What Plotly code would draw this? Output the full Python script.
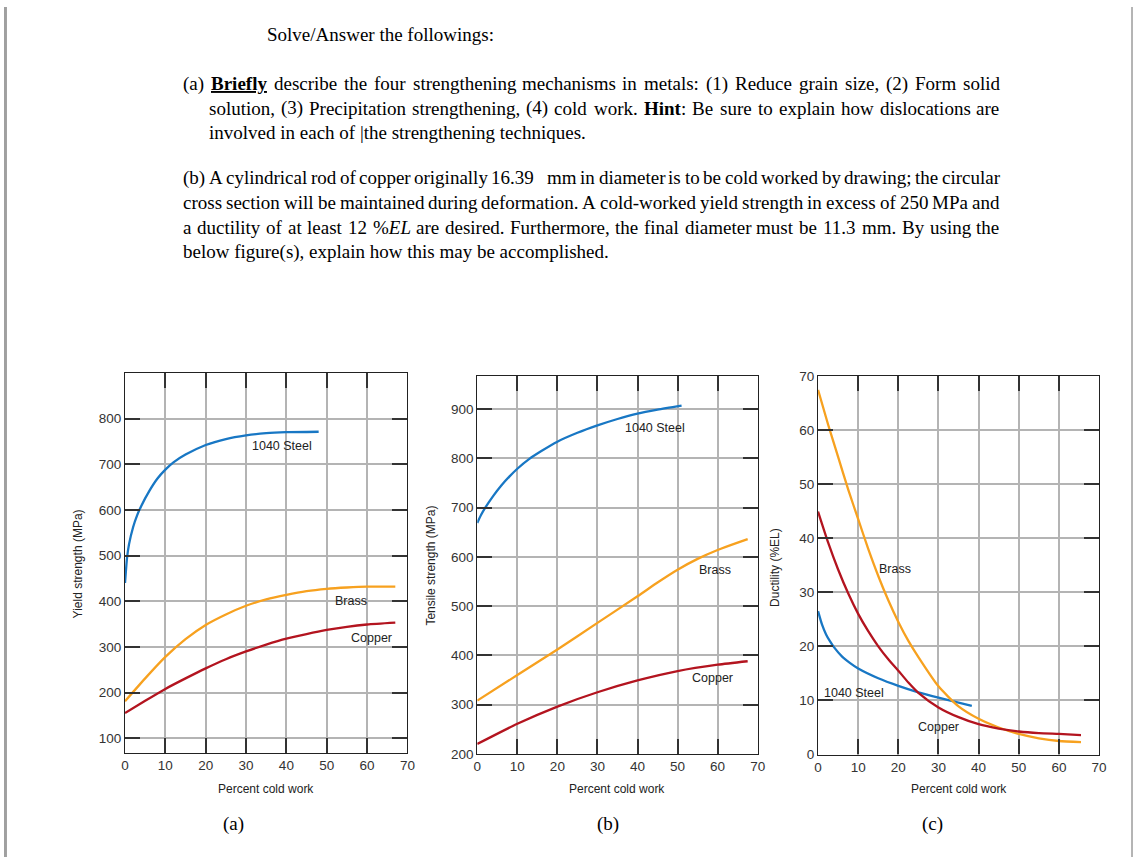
import plotly.graph_objects as go

W, H = 1141, 865

# ---------------- data ----------------
# (a) Yield strength (MPa) vs percent cold work
steel_a_x = [0, 0.5, 1, 2, 3, 4, 6, 8, 10, 12, 15, 20, 25, 30, 35, 40, 48]
steel_a_y = [440, 495, 525, 562, 588, 608, 641, 668, 688, 704, 721, 742, 755, 763, 768, 770, 771]
brass_a_x = [0, 5, 10, 15, 20, 25, 30, 35, 40, 45, 50, 55, 60, 67]
brass_a_y = [181, 231, 278, 317, 348, 371, 390, 404, 414, 422, 427, 430, 432, 432]
copper_a_x = [0, 5, 10, 15, 20, 25, 30, 35, 40, 45, 50, 55, 60, 67]
copper_a_y = [155, 182, 208, 231, 253, 273, 290, 305, 318, 328, 337, 344, 349, 353]

# (b) Tensile strength (MPa) vs percent cold work
steel_b_x = [0, 1, 2, 4, 6, 8, 10, 13, 16, 20, 25, 30, 35, 40, 45, 51]
steel_b_y = [669, 686, 700, 724, 745, 763, 779, 799, 815, 834, 852, 867, 880, 891, 899, 907]
brass_b_x = [0, 10, 20, 30, 40, 45, 50, 55, 60, 65, 67.5]
brass_b_y = [308, 360, 412, 466, 520, 548, 574, 596, 614, 629, 636]
copper_b_x = [0, 10, 20, 30, 40, 50, 60, 67.5]
copper_b_y = [220, 261, 296, 325, 349, 368, 381, 388]

# (c) Ductility (%EL) vs percent cold work
brass_c_x = [0, 2.5, 5, 7.5, 10, 12.5, 15, 17.5, 20, 22.5, 25, 30, 35, 40, 45, 50, 55, 60, 65.5]
brass_c_y = [67.4, 61, 55, 49, 43.5, 38, 33, 28.5, 24.5, 21, 18, 12.6, 8.9, 6.6, 5.0, 3.8, 3.0, 2.5, 2.3]
copper_c_x = [0, 2.5, 5, 7.5, 10, 12.5, 15, 17.5, 20, 22.5, 25, 30, 35, 40, 45, 50, 55, 60, 65.5]
copper_c_y = [44.9, 39.2, 34.2, 29.8, 26, 22.8, 20, 17.6, 15.5, 13.3, 11.4, 8.7, 6.9, 5.6, 4.8, 4.25, 3.95, 3.8, 3.6]
steel_c_x = [0, 1, 2, 3, 4, 6, 8, 10, 15, 20, 25, 30, 35, 38.3]
steel_c_y = [26.5, 24.0, 22.2, 20.9, 19.8, 18.1, 16.9, 15.9, 14.1, 12.7, 11.5, 10.5, 9.6, 9.0]

x_ticks = [0, 10, 20, 30, 40, 50, 60, 70]
ya_ticks = [100, 200, 300, 400, 500, 600, 700, 800]
yb_ticks = [200, 300, 400, 500, 600, 700, 800, 900]
yc_ticks = [0, 10, 20, 30, 40, 50, 60, 70]

# ---------------- text ----------------
TITLE = "Solve/Answer the followings:"
A1 = ["(a)", "<u><b>Briefly</b></u>", "describe", "the", "four", "strengthening", "mechanisms",
      "in", "metals:", "(1)", "Reduce", "grain", "size,", "(2)", "Form", "solid"]
A2 = "solution, (3) Precipitation strengthening, (4) cold work. <b>Hint</b>: Be sure to explain how dislocations are".split(" ")
A3 = "involved in each of |the strengthening techniques."
B1 = ["(b)", "A", "cylindrical", "rod", "of", "copper", "originally", "16.39  ", "mm", "in", "diameter",
      "is", "to", "be", "cold", "worked", "by", "drawing;", "the", "circular"]
B2 = "cross section will be maintained during deformation. A cold-worked yield strength in excess of 250 MPa and".split(" ")
B3 = "a ductility of at least 12 %<i>EL</i> are desired. Furthermore, the final diameter must be 11.3 mm. By using the".split(" ")
B4 = "below figure(s), explain how this may be accomplished."

SERIF = "Liberation Serif, Times New Roman, serif"
SANS = "Liberation Sans, Arial, sans-serif"
FS = 19

TR = {' ': 250, '!': 333, '%': 833, '(': 333, ')': 333, ',': 250, '-': 333, '.': 250, '/': 278,
      ':': 278, ';': 278, '|': 200,
      'A': 722, 'B': 667, 'C': 667, 'D': 722, 'E': 611, 'F': 556, 'G': 722, 'H': 722, 'I': 333,
      'J': 389, 'K': 722, 'L': 611, 'M': 889, 'N': 722, 'O': 722, 'P': 556, 'Q': 722, 'R': 667,
      'S': 556, 'T': 611, 'U': 722, 'V': 722, 'W': 944, 'X': 722, 'Y': 722, 'Z': 611,
      'a': 444, 'b': 500, 'c': 444, 'd': 500, 'e': 444, 'f': 333, 'g': 500, 'h': 500, 'i': 278,
      'j': 278, 'k': 500, 'l': 278, 'm': 778, 'n': 500, 'o': 500, 'p': 500, 'q': 500, 'r': 333,
      's': 389, 't': 278, 'u': 500, 'v': 500, 'w': 722, 'x': 500, 'y': 500, 'z': 444}
for d in '0123456789':
    TR[d] = 500
TB = {'B': 667, 'r': 444, 'i': 278, 'e': 444, 'f': 333, 'l': 278, 'y': 500, 'H': 778, 'n': 556,
      't': 333, ':': 333}
TI = {'E': 611, 'L': 556}


def word_width(word, fs):
    bold = ital = False
    w = 0
    i = 0
    while i < len(word):
        ch = word[i]
        if ch == '<':
            j = word.index('>', i)
            tag = word[i + 1:j]
            if tag == 'b':
                bold = True
            elif tag == '/b':
                bold = False
            elif tag == 'i':
                ital = True
            elif tag == '/i':
                ital = False
            i = j + 1
            continue
        if bold and ch in TB:
            w += TB[ch]
        elif ital and ch in TI:
            w += TI[ch]
        else:
            w += TR.get(ch, 500)
        i += 1
    return w * fs / 1000.0


annotations = []


def txt(text, px, py, size=FS, family=SERIF, xanchor='left', color='#000', angle=0):
    annotations.append(dict(
        text=text, x=px / W, y=1 - py / H, xref='paper', yref='paper',
        xanchor=xanchor, yanchor='middle', showarrow=False, borderpad=0,
        textangle=angle, font=dict(family=family, size=size, color=color)))


def justify(words, left, right, py):
    widths = [word_width(w, FS) for w in words]
    gap = (right - left - sum(widths)) / (len(words) - 1)
    x = left
    for w, wd in zip(words, widths):
        txt(w.strip(), x, py)
        x += wd + gap


txt(TITLE, 265, 28)
justify(A1, 180, 1005, 78)
justify(A2, 206, 1005, 103)
txt(A3, 206, 128)
justify(B1, 180, 1005, 174)
justify(B2, 180, 1005, 199)
justify(B3, 180, 1005, 224)
txt(B4, 180, 249)

# panel captions and axis titles
txt("(a)", 232, 831, xanchor='center')
txt("(b)", 610, 831, xanchor='center')
txt("(c)", 938, 831, xanchor='center')
for cx in (265, 620, 965):
    txt("Percent cold work", cx, 796, size=12, family=SANS, xanchor='center', color='#222')
txt("Yield strength (MPa)", 75, 567, size=12, family=SANS, xanchor='center', color='#222', angle=-90)
txt("Tensile strength (MPa)", 432, 568, size=12, family=SANS, xanchor='center', color='#222', angle=-90)
txt("Ductility (%EL)", 779, 570, size=12, family=SANS, xanchor='center', color='#222', angle=-90)

# curve labels in data coordinates
curve_labels = [
    ("1040 Steel", 38.9, 740, 'x', 'y'), ("Brass", 56, 401, 'x', 'y'), ("Copper", 61, 320, 'x', 'y'),
    ("1040 Steel", 44.3, 862, 'x2', 'y2'), ("Brass", 59.3, 574, 'x2', 'y2'), ("Copper", 58.7, 353, 'x2', 'y2'),
    ("Brass", 19.1, 34.3, 'x3', 'y3'), ("1040 Steel", 9.0, 11.3, 'x3', 'y3'), ("Copper", 30, 5.0, 'x3', 'y3'),
]
for t, lx, ly, xr, yr in curve_labels:
    annotations.append(dict(text=t, x=lx, y=ly, xref=xr, yref=yr, showarrow=False,
                            xanchor='center', yanchor='middle',
                            font=dict(family=SANS, size=12.5, color='#222')))

BLUE, ORANGE, RED = '#1877c4', '#f7a11f', '#b3141f'

fig = go.Figure()


def curve(xs, ys, color, xa, ya):
    fig.add_trace(go.Scatter(x=xs, y=ys, mode='lines', xaxis=xa, yaxis=ya,
                             line=dict(color=color, width=2.3, shape='spline', smoothing=0.6),
                             showlegend=False, hoverinfo='skip'))


curve(steel_a_x, steel_a_y, BLUE, 'x', 'y')
curve(brass_a_x, brass_a_y, ORANGE, 'x', 'y')
curve(copper_a_x, copper_a_y, RED, 'x', 'y')
curve(steel_b_x, steel_b_y, BLUE, 'x2', 'y2')
curve(brass_b_x, brass_b_y, ORANGE, 'x2', 'y2')
curve(copper_b_x, copper_b_y, RED, 'x2', 'y2')
curve(steel_c_x, steel_c_y, BLUE, 'x3', 'y3')
curve(brass_c_x, brass_c_y, ORANGE, 'x3', 'y3')
curve(copper_c_x, copper_c_y, RED, 'x3', 'y3')

ax_style = dict(showgrid=True, gridcolor='#b4b4b4', gridwidth=1.5, ticks='inside', ticklen=15,
                tickwidth=1.5, tickcolor='#333', showline=True, linecolor='#222', linewidth=1.2,
                mirror='ticks', zeroline=False,
                tickfont=dict(family=SANS, size=13.5, color='#333'))

fig.update_layout(
    width=W, height=H, margin=dict(l=0, r=0, t=0, b=0),
    paper_bgcolor='white', plot_bgcolor='white', showlegend=False,
    xaxis=dict(domain=[122.3 / W, 407.7 / W], anchor='y', range=[0, 70], tickvals=x_ticks, **ax_style),
    yaxis=dict(domain=[1 - 759 / H, 1 - 372.3 / H], anchor='x', range=[68, 900], tickvals=ya_ticks, **ax_style),
    xaxis2=dict(domain=[478.3 / W, 761.7 / W], anchor='y2', range=[0, 70], tickvals=x_ticks, **ax_style),
    yaxis2=dict(domain=[1 - 760 / H, 1 - 375.7 / H], anchor='x2', range=[200, 967], tickvals=yb_ticks, **ax_style),
    xaxis3=dict(domain=[822.7 / W, 1106.7 / W], anchor='y3', range=[0, 70], tickvals=x_ticks, **ax_style),
    yaxis3=dict(domain=[1 - 760.7 / H, 1 - 375.3 / H], anchor='x3', range=[0, 70], tickvals=yc_ticks, **ax_style),
    annotations=annotations,
    shapes=[
        dict(type='rect', xref='paper', yref='paper', x0=0, x1=3 / W, y0=0, y1=1,
             fillcolor='#a0a0a0', line=dict(width=0)),
        dict(type='rect', xref='paper', yref='paper', x0=1139 / W, x1=1, y0=0, y1=1,
             fillcolor='#b4b4b4', line=dict(width=0)),
    ],
)

fig.write_html("out.html")
